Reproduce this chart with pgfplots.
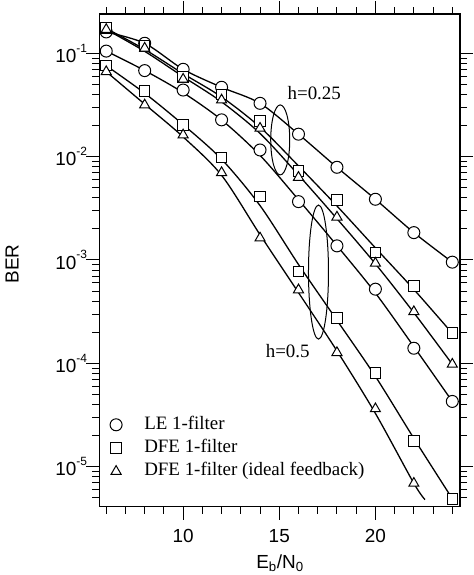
\documentclass[border=0pt]{standalone}
\usepackage{fontspec}
\setmainfont{Liberation Serif}
\newfontfamily\sans{Liberation Sans}
\usepackage{pgfplots}
\pgfplotsset{compat=1.18}
\begin{document}
\begin{tikzpicture}
\begin{axis}[
  at={(0,0)}, anchor=south west,
  scale only axis, width=360.5bp, height=492.7bp,
  xmin=5.65, xmax=24.4,
  ymode=log, log basis y=10, ymin=4.1e-6, ymax=0.24,
  xtick={10,15,20}, xticklabels={10,15,20}, minor xtick={6,...,24},
  tick align=outside, major tick length=13bp, minor tick length=7bp,
  every tick/.style={black, line width=1bp},
  axis line style={line width=1.2bp},
  xticklabel style={font=\sans\fontsize{19}{19}\selectfont, yshift=-6bp},
  yticklabel style={font=\sans\fontsize{19}{19}\selectfont, xshift=4bp},
  yticklabel={10\raisebox{1.05ex}{\fontsize{12}{12}\selectfont\pgfmathparse{int(round(\tick))}\pgfmathresult}},
  xlabel={E\textsubscript{b}/N\textsubscript{0}},
  ylabel={BER},
  every axis x label/.style={at={(axis description cs:0.5007,-0.1244)}, anchor=base, font=\sans\fontsize{19}{19}\selectfont},
  every axis y label/.style={at={(axis description cs:-0.2427,0.4926)}, anchor=center, rotate=90, font=\sans\fontsize{19}{19}\selectfont},
  legend style={at={(axis description cs:0.02,0.192)}, anchor=north west, draw=none, fill=none,
    font=\fontsize{19}{19}\selectfont, row sep=2.3bp,
    nodes={text height=13bp, text depth=4bp, inner sep=2bp}},
  legend cell align=left,
  legend image code/.code={\draw[mark repeat=2,mark phase=2,#1] plot coordinates {(0bp,0bp)(6bp,0bp)(12bp,0bp)};
    \path (0bp,0bp) (32bp,0bp);},
]
% ---- fitted curves ----
\addplot[black, line width=1.3bp, smooth, tension=0.5, forget plot] table {
x y
6 0.161
8 0.125
10 0.070
12 0.0469
14 0.0328
16 0.0165
18 0.00789
20 0.00387
22 0.00184
24 0.000953
};
\addplot[black, line width=1.3bp, smooth, tension=0.5, forget plot] table {
x y
6 0.174
8 0.109
10 0.0635
12 0.0378
14 0.0193
16 0.00813
18 0.00333
20 0.00131
22 0.000519
24 0.000195
};
\addplot[black, line width=1.3bp, smooth, tension=0.5, forget plot] table {
x y
6 0.170
8 0.1045
10 0.0594
12 0.0339
14 0.01677
16 0.00664
18 0.00251
20 0.000918
22 0.000309
24 0.000098
};
\addplot[black, line width=1.3bp, smooth, tension=0.5, forget plot] table {
x y
6 0.105
8 0.0681
10 0.0416
12 0.02265
14 0.01029
16 0.00383
18 0.001377
20 0.000479
22 0.000145
24 0.0000428
};
\addplot[black, line width=1.3bp, smooth, tension=0.5, forget plot] table {
x y
6 0.0759
8 0.0411
10 0.0204
12 0.00944
14 0.00336
16 0.000905
18 0.000261
20 0.0000748
22 0.0000188
24 0.0000049
};
\addplot[black, line width=1.3bp, smooth, tension=0.5, forget plot] table {
x y
6 0.0664
8 0.0322
10 0.01552
12 0.0066
14 0.001755
16 0.000483
18 0.000132
20 0.0000328
22 0.0000069
22.58 0.0000048
};
% ---- markers, h=0.25 ----
\addplot[only marks, mark=*, mark size=6bp, mark options={draw=black, fill=white, line width=1bp}, forget plot] table {
x y
6 0.161
8 0.125
10 0.070
12 0.0469
14 0.0328
16 0.0165
18 0.00789
20 0.00387
22 0.00184
24 0.000953
};
\addplot[only marks, mark=square*, mark size=5.3bp, mark options={draw=black, fill=white, line width=1bp}, forget plot] table {
x y
6 0.175
8 0.118
10 0.0586
12 0.0401
14 0.0221
16 0.00728
18 0.00381
20 0.00118
22 0.00056
24 0.000196
};
\addplot[only marks, mark=triangle*, mark size=5.8bp, mark options={draw=black, fill=white, line width=1bp}, forget plot] table {
x y
6 0.170
8 0.112
10 0.0561
12 0.0353
14 0.0188
16 0.0063
18 0.0026
20 0.00093
22 0.000316
24 0.000098
};
% ---- markers, h=0.5 (legend) ----
\addplot[only marks, mark=*, mark size=6bp, mark options={draw=black, fill=white, line width=1bp}] table {
x y
6 0.105
8 0.068
10 0.0441
12 0.0227
14 0.0116
16 0.00367
18 0.00137
20 0.000522
22 0.000140
24 0.0000428
};
\addlegendentry{LE 1-filter}
\addplot[only marks, mark=square*, mark size=5.3bp, mark options={draw=black, fill=white, line width=1bp}] table {
x y
6 0.0759
8 0.0431
10 0.0202
12 0.00977
14 0.0041
16 0.000773
18 0.000274
20 0.0000804
22 0.0000178
24 0.0000049
};
\addlegendentry{DFE 1-filter}
\addplot[only marks, mark=triangle*, mark size=5.8bp, mark options={draw=black, fill=white, line width=1bp}] table {
x y
6 0.0664
8 0.0316
10 0.0162
12 0.0070
14 0.00163
16 0.000514
18 0.000127
20 0.0000363
22 0.0000069
};
\addlegendentry{DFE 1-filter (ideal feedback)}
% ---- annotations ----
\draw[line width=1bp] (axis cs:15.05,0.01452) ellipse [x radius=9.5bp, y radius=35bp];
\draw[line width=1bp] (axis cs:17.04,0.000764) ellipse [x radius=10bp, y radius=67bp];
\node[font=\fontsize{19}{19}\selectfont] at (axis cs:16.82,0.0412) {h=0.25};
\node[font=\fontsize{19}{19}\selectfont] at (axis cs:15.44,0.000130) {h=0.5};
\end{axis}
\pgfresetboundingbox
\path[use as bounding box] (-99.5bp,-68.3bp) rectangle (374.5bp,506.7bp);
\end{tikzpicture}
\end{document}
